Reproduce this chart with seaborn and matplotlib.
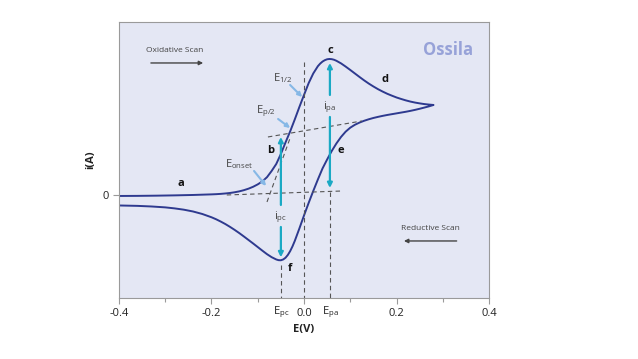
import numpy as np
import pandas as pd
import matplotlib
matplotlib.use("Agg")
import matplotlib.pyplot as plt
import matplotlib.transforms as mtransforms
import seaborn as sns

# ---------------- data ----------------
ox_E = [-0.40, -0.36, -0.32, -0.28, -0.24, -0.22, -0.20, -0.19, -0.18, -0.17, -0.16, -0.15,
        -0.14, -0.13, -0.12, -0.11, -0.10, -0.09, -0.08, -0.07, -0.06, -0.05, -0.04, -0.03,
        -0.02, -0.01, 0.00, 0.01, 0.02, 0.03, 0.035, 0.04, 0.045, 0.05, 0.055, 0.06, 0.065,
        0.07, 0.08, 0.09, 0.10, 0.11, 0.12, 0.13, 0.14, 0.15, 0.16, 0.17, 0.18, 0.19, 0.20,
        0.21, 0.22, 0.23, 0.24, 0.25, 0.26, 0.27, 0.28]
ox_i = [-0.010, -0.009, -0.007, -0.004, 0.000, 0.003, 0.006, 0.008, 0.011, 0.015, 0.020, 0.027,
        0.036, 0.048, 0.063, 0.082, 0.106, 0.136, 0.178, 0.240, 0.310, 0.410, 0.525, 0.635,
        0.755, 0.880, 1.000, 1.118, 1.215, 1.288, 1.314, 1.334, 1.348, 1.357, 1.360, 1.358, 1.352,
        1.342, 1.316, 1.284, 1.250, 1.215, 1.180, 1.146, 1.114, 1.085, 1.058, 1.034, 1.012, 0.993, 0.975,
        0.960, 0.946, 0.934, 0.924, 0.916, 0.909, 0.904, 0.900]
red_E = [0.28, 0.27, 0.26, 0.25, 0.24, 0.23, 0.22, 0.21, 0.20, 0.19, 0.18, 0.17, 0.16, 0.15,
         0.14, 0.13, 0.12, 0.11, 0.10, 0.09, 0.08, 0.07, 0.06, 0.05, 0.04, 0.03, 0.02, 0.01,
         0.00, -0.01, -0.02, -0.025, -0.03, -0.035, -0.04, -0.045, -0.05, -0.055, -0.06, -0.07,
         -0.08, -0.09, -0.10, -0.11, -0.12, -0.13, -0.14, -0.15, -0.16, -0.17, -0.18, -0.19,
         -0.20, -0.22, -0.24, -0.26, -0.28, -0.30, -0.33, -0.36, -0.40]
red_i = [0.900, 0.886, 0.874, 0.862, 0.851, 0.841, 0.832, 0.824, 0.816, 0.808, 0.800, 0.791, 0.781, 0.770,
         0.757, 0.742, 0.724, 0.702, 0.673, 0.633, 0.580, 0.515, 0.440, 0.355, 0.265, 0.155, 0.040, -0.080,
         -0.205, -0.335, -0.460, -0.515, -0.562, -0.600, -0.628, -0.645, -0.653, -0.652, -0.645, -0.622,
         -0.592, -0.557, -0.521, -0.485, -0.450, -0.415, -0.381, -0.349, -0.319, -0.291, -0.266, -0.243,
         -0.223, -0.190, -0.165, -0.147, -0.134, -0.124, -0.115, -0.109, -0.105]

E_pc, E_pa, E_half = -0.05, 0.056, 0.0
i_pa_top, i_pc_bottom = 1.36, -0.653
baseline_E = [-0.167, 0.084]
baseline_i = [0.0, 0.04]
ep2_E = [-0.078, 0.125]
ep2_i = [0.58, 0.74]
tangent_E = [-0.08, -0.03]
tangent_i = [-0.07, 0.57]

xtick_vals = [-0.4, -0.2, E_pc, 0.0, E_pa, 0.2, 0.4]
xtick_labels = ["-0.4", "-0.2", r"$\mathregular{E_{pc}}$", "0.0", r"$\mathregular{E_{pa}}$", "0.2", "0.4"]

df = pd.DataFrame({"E": ox_E + red_E, "i": ox_i + red_i})

# ---------------- style ----------------
sns.set_theme(style="white")
plt.rcParams["font.family"] = ["Open Sans", "DejaVu Sans"]
plt.rcParams["mathtext.fontset"] = "custom"
plt.rcParams["mathtext.rm"] = "Open Sans"
plt.rcParams["mathtext.it"] = "Open Sans:italic"
plt.rcParams["mathtext.bf"] = "Open Sans:bold"
plt.rcParams["axes.unicode_minus"] = False

navy = "#2e3a8f"
cyan = "#1aa9c4"
light = "#86b8e6"
dgrey = "#444444"
bg = "#e4e7f4"

fig = plt.figure(figsize=(6.38, 3.59), dpi=100)
ax = fig.add_axes([0.1865, 0.170, 0.58, 0.7688])
ax.set_facecolor(bg)

sns.lineplot(data=df, x="E", y="i", sort=False, estimator=None, color=navy, lw=1.4, ax=ax)
ax.lines[0].set_solid_joinstyle("round")

ax.set_xlim(-0.4, 0.4)
ax.set_ylim(-1.03, 1.73)

dash = dict(color="#555555", lw=0.8, ls=(0, (4, 3)))
ax.plot([E_half, E_half], [1.33, -1.03], **dash)
ax.plot([E_pc, E_pc], [i_pc_bottom - 0.05, -1.03], **dash)
ax.plot([E_pa, E_pa], [0.03, -1.03], **dash)
ax.plot(baseline_E, baseline_i, **dash)
ax.plot(ep2_E, ep2_i, **dash)
ax.plot(tangent_E, tangent_i, **dash)

# cyan current arrows
arw = dict(arrowstyle="-|>", color=cyan, lw=1.6, mutation_scale=7, shrinkA=0, shrinkB=0)
ax.annotate("", xy=(E_pa, i_pa_top - 0.04), xytext=(E_pa, 1.0), arrowprops=arw)
ax.annotate("", xy=(E_pa, 0.07), xytext=(E_pa, 0.78), arrowprops=arw)
ax.text(E_pa, 0.88, r"$\mathregular{i_{pa}}$", ha="center", va="center", fontsize=8, color=dgrey)
ax.annotate("", xy=(E_pc, 0.58), xytext=(E_pc, -0.10), arrowprops=arw)
ax.annotate("", xy=(E_pc, i_pc_bottom + 0.03), xytext=(E_pc, -0.32), arrowprops=arw)
ax.text(E_pc, -0.22, r"$\mathregular{i_{pc}}$", ha="center", va="center", fontsize=8, color=dgrey)

# light-blue pointer arrows
parw = dict(arrowstyle="-|>", color=light, lw=1.5, mutation_scale=6, shrinkA=0, shrinkB=0)
ax.annotate("", xy=(-0.004, 0.98), xytext=(-0.03, 1.10), arrowprops=parw)
ax.annotate("", xy=(-0.030, 0.67), xytext=(-0.056, 0.76), arrowprops=parw)
ax.annotate("", xy=(-0.082, 0.09), xytext=(-0.108, 0.24), arrowprops=parw)
ax.text(-0.046, 1.17, r"$\mathregular{E_{1/2}}$", ha="center", va="center", fontsize=8, color=dgrey)
ax.text(-0.083, 0.84, r"$\mathregular{E_{p/2}}$", ha="center", va="center", fontsize=8, color=dgrey)
ax.text(-0.14, 0.31, r"$\mathregular{E_{onset}}$", ha="center", va="center", fontsize=8, color=dgrey)

# letters
for lab, xx, yy in [("a", -0.266, 0.11), ("b", -0.073, 0.44), ("c", 0.056, 1.44),
                    ("d", 0.175, 1.15), ("e", 0.080, 0.44), ("f", -0.030, -0.74)]:
    ax.text(xx, yy, lab, ha="center", va="center", fontsize=8, fontweight="bold", color="#111111")

# scan labels
ax.text(-0.279, 1.44, "Oxidative Scan", ha="center", va="center", fontsize=6, color=dgrey)
ax.annotate("", xy=(-0.218, 1.32), xytext=(-0.331, 1.32),
            arrowprops=dict(arrowstyle="-|>", color=dgrey, lw=1.0, mutation_scale=6,
                            shrinkA=0, shrinkB=0))
ax.text(0.273, -0.34, "Reductive Scan", ha="center", va="center", fontsize=6, color=dgrey)
ax.annotate("", xy=(0.216, -0.46), xytext=(0.33, -0.46),
            arrowprops=dict(arrowstyle="-|>", color=dgrey, lw=1.0, mutation_scale=6,
                            shrinkA=0, shrinkB=0))

# logo
ax.text(0.312, 1.45, "Ossila", ha="center", va="center", fontsize=12, fontweight="bold",
        color="#97a2d8")

# axes styling
for s in ax.spines.values():
    s.set_color("#9a9a9a")
    s.set_linewidth(0.8)
ax.set_xticks(xtick_vals)
ax.set_xticklabels(xtick_labels)
ax.set_xticks([-0.3, -0.1, 0.1, 0.3], minor=True)
ax.set_yticks([0])
ax.set_yticklabels(["0"])
ax.tick_params(axis="both", which="major", direction="out", length=4, width=0.8,
               color="#9a9a9a", labelsize=8, labelcolor="#222222", bottom=True, left=True)
ax.tick_params(axis="x", which="minor", direction="out", length=3, width=0.8,
               color="#9a9a9a", bottom=True)
shift = mtransforms.ScaledTranslation(0, 3 / 72, fig.dpi_scale_trans)
for t, v in zip(ax.xaxis.get_major_ticks(), xtick_vals):
    if v in (E_pc, E_pa):
        t.tick1line.set_visible(False)
        t.label1.set_transform(t.label1.get_transform() + shift)
ax.set_xlabel("E(V)", fontsize=8, fontweight="bold", color="#222222", labelpad=3)
ax.set_ylabel("i(A)", fontsize=8, fontweight="bold", color="#222222", labelpad=4)

fig.savefig("out.png", dpi=100)
